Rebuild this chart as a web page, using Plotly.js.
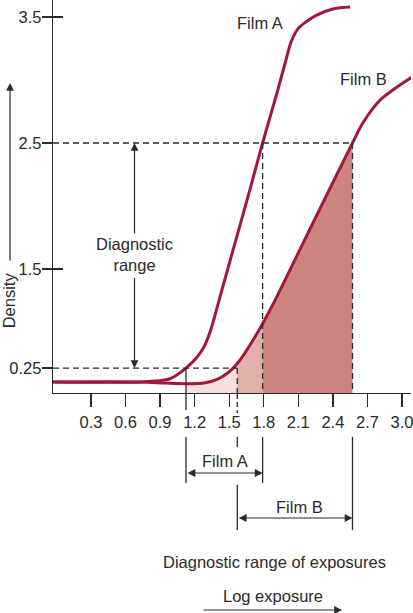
<!DOCTYPE html>
<html><head><meta charset="utf-8">
<script src="https://cdn.plot.ly/plotly-3.0.1.min.js"></script>
<style>html,body{margin:0;padding:0;background:#fff;overflow:hidden}#chart{width:413px;height:613px}</style>
</head><body><div id="chart"></div>
<script>
// Characteristic (H&D) curves.
// Density axis is schematic: the "0.25" level is drawn at plotted position 0.714.
const filmA_logE    = [-0.03, 0.73, 0.86, 0.99, 1.125, 1.22, 1.28, 1.33, 1.44, 1.53, 1.68, 1.79, 1.92, 1.99, 2.04, 2.10, 2.18, 2.26, 2.40, 2.55];
const filmA_density = [0.603, 0.603, 0.611, 0.631, 0.714, 0.80, 0.88, 0.99, 1.345, 1.64, 2.13, 2.50, 2.915, 3.15, 3.31, 3.41, 3.47, 3.515, 3.563, 3.579];
const filmB_logE    = [-0.03, 0.73, 0.94, 1.125, 1.29, 1.40, 1.50, 1.57, 1.66, 1.75, 1.79, 1.87, 2.01, 2.31, 2.57, 2.66, 2.81, 2.92, 3.08];
const filmB_density = [0.603, 0.603, 0.595, 0.590, 0.598, 0.627, 0.685, 0.750, 0.867, 1.002, 1.066, 1.202, 1.46, 2.02, 2.50, 2.659, 2.841, 2.921, 3.02];

const xTickVals = [0.3, 0.6, 0.9, 1.2, 1.5, 1.8, 2.1, 2.4, 2.7, 3.0];
const xTickText = ['0.3', '0.6', '0.9', '1.2', '1.5', '1.8', '2.1', '2.4', '2.7', '3.0'];
const yTickVals = [0.714, 1.5, 2.5, 3.5];
const yTickText = ['0.25', '1.5', '2.5', '3.5'];
const diagDensity = [0.714, 2.5];   // plotted levels of densities 0.25 and 2.5
const rangeA = [1.125, 1.79];       // Film A diagnostic exposure range
const rangeB = [1.57, 2.57];        // Film B diagnostic exposure range

const xRange = [-0.0295, 3.078];
const yRange = [0.516, 3.635];

const RED = '#a3173d';
const INK = '#2a2a2a';
const FONT = 'Liberation Sans, Arial, Helvetica, sans-serif';

function sliceB(x0, x1) {
  const xs = [], ys = [];
  filmB_logE.forEach((x, i) => { if (x >= x0 - 1e-9 && x <= x1 + 1e-9) { xs.push(x); ys.push(filmB_density[i]); } });
  return {x: xs, y: ys};
}
function fillTrace(x0, x1, color) {
  const s = sliceB(x0, x1);
  return {x: s.x, y: s.y, type: 'scatter', mode: 'lines', fill: 'tozeroy', fillcolor: color,
          line: {width: 0, shape: 'spline'}, hoverinfo: 'skip', showlegend: false};
}

const traces = [
  fillTrace(rangeA[0], rangeB[0], '#f4e0dc'),
  fillTrace(rangeB[0], rangeA[1], '#e0b1ab'),
  fillTrace(rangeA[1], rangeB[1], '#cc857e'),
  {x: filmA_logE, y: filmA_density, type: 'scatter', mode: 'lines', line: {color: RED, width: 3, shape: 'spline'}, showlegend: false},
  {x: filmB_logE, y: filmB_density, type: 'scatter', mode: 'lines', line: {color: RED, width: 3, shape: 'spline'}, showlegend: false},
  // dashed guide lines
  {x: [xRange[0], rangeB[1], null, xRange[0], rangeB[0], null, rangeA[1], rangeA[1], null, rangeB[1], rangeB[1], null, rangeB[0], rangeB[0]],
   y: [diagDensity[1], diagDensity[1], null, diagDensity[0], diagDensity[0], null, diagDensity[1], yRange[0], null, diagDensity[1], yRange[0], null, diagDensity[0], yRange[0]],
   type: 'scatter', mode: 'lines', yaxis: 'y2', line: {color: INK, width: 1.3, dash: '6px,4px'}, showlegend: false, hoverinfo: 'skip'},
  // solid guide at start of Film A range
  {x: [rangeA[0], rangeA[0]], y: [diagDensity[0], yRange[0]], type: 'scatter', mode: 'lines', yaxis: 'y2',
   line: {color: INK, width: 1.3}, showlegend: false, hoverinfo: 'skip'}
];

// pixel row -> paper y (plot area spans rows 0..393)
const py = r => (393 - r) / 393;

const vline = (x, r0, r1, dash) => ({type: 'line', xref: 'x', yref: 'paper', x0: x, x1: x, y0: py(r0), y1: py(r1),
  line: {color: INK, width: 1.3, dash: dash || 'solid'}});

const shapes = [
  vline(rangeA[0], 394, 410),
  vline(rangeB[0], 394, 413, '5px,3px'),
  vline(rangeA[0], 437, 483),
  vline(rangeA[1], 437, 483),
  vline(rangeB[0], 437, 447),
  vline(rangeB[0], 485, 530),
  vline(rangeB[1], 437, 530)
];

const txt = (extra) => Object.assign({showarrow: false, xanchor: 'center', yanchor: 'middle',
  font: {family: FONT, size: 16.5, color: INK}}, extra);
const arrowDefaults = {showarrow: true, arrowhead: 2, arrowsize: 1.3, arrowwidth: 1.2, arrowcolor: INK,
  standoff: 0, startstandoff: 0, text: '', xanchor: 'center', yanchor: 'middle'};

const annotations = [
  txt({x: 1.763, y: 3.45, xref: 'x', yref: 'y', text: 'Film A'}),
  txt({x: 2.666, y: 3.005, xref: 'x', yref: 'y', text: 'Film B'}),
  txt({x: 0.678, y: 1.619, xref: 'x', yref: 'y', text: 'Diagnostic<br>range'}),
  Object.assign({}, arrowDefaults, {x: 0.678, y: diagDensity[1], xref: 'x', yref: 'y', ax: 0.678, ay: 1.77, axref: 'x', ayref: 'y'}),
  Object.assign({}, arrowDefaults, {x: 0.678, y: diagDensity[0], xref: 'x', yref: 'y', ax: 0.678, ay: 1.44, axref: 'x', ayref: 'y'}),
  // Density label + arrow
  txt({x: -0.122, y: py(300), xref: 'paper', yref: 'paper', text: 'Density', textangle: -90}),
  Object.assign({}, arrowDefaults, {x: -0.12, y: py(83), xref: 'paper', yref: 'paper', ax: 0, ay: 179}),
  // exposure ranges below axis
  txt({x: 1.464, y: py(461), xref: 'x', yref: 'paper', text: 'Film A'}),
  Object.assign({}, arrowDefaults, {x: rangeA[1], y: py(473), xref: 'x', yref: 'paper', ax: rangeA[0], axref: 'x', ay: 0, arrowside: 'end+start', startarrowhead: 2, startarrowsize: 1.3}),
  txt({x: 2.106, y: py(507), xref: 'x', yref: 'paper', text: 'Film B'}),
  Object.assign({}, arrowDefaults, {x: rangeB[1], y: py(518), xref: 'x', yref: 'paper', ax: rangeB[0], axref: 'x', ay: 0, arrowside: 'end+start', startarrowhead: 2, startarrowsize: 1.3}),
  txt({x: 1.897, y: py(562), xref: 'x', yref: 'paper', text: 'Diagnostic range of exposures'}),
  txt({x: 1.876, y: py(596), xref: 'x', yref: 'paper', text: 'Log exposure'}),
  Object.assign({}, arrowDefaults, {x: 2.479, y: py(610), xref: 'x', yref: 'paper', ax: -140, ay: 0})
];

const layout = {
  width: 413, height: 613,
  margin: {l: 53, r: 2, t: 0, b: 220, pad: 0},
  paper_bgcolor: '#fff', plot_bgcolor: 'rgba(0,0,0,0)',
  font: {family: FONT, size: 16.5, color: INK},
  showlegend: false,
  xaxis: {range: xRange, showgrid: false, zeroline: false, showline: true, linecolor: INK, linewidth: 1.3,
          ticks: 'outside', ticklen: 13, tickwidth: 1.3, tickcolor: INK, tickvals: xTickVals, ticktext: xTickText,
          ticklabelstandoff: 1, ticklabeloverflow: 'allow', tickfont: {family: FONT, size: 16.5, color: INK}, fixedrange: true},
  yaxis: {range: yRange, showgrid: false, zeroline: false, showline: true, linecolor: INK, linewidth: 1.3,
          ticks: 'outside', ticklen: 10, tickwidth: 1.3, tickcolor: INK, tickvals: yTickVals, ticktext: yTickText,
          ticklabelstandoff: -3, ticklabeloverflow: 'allow', tickfont: {family: FONT, size: 16.5, color: INK}, fixedrange: true},
  yaxis2: {range: yRange, overlaying: 'y', anchor: 'x', side: 'left', showgrid: false, zeroline: false, showline: false,
           ticks: 'inside', ticklen: 10, tickwidth: 1.3, tickcolor: INK, tickvals: [1.5, 3.5], showticklabels: false, fixedrange: true},
  shapes: shapes,
  annotations: annotations
};

Plotly.newPlot('chart', traces, layout, {staticPlot: true, displayModeBar: false});
</script>
</body></html>
